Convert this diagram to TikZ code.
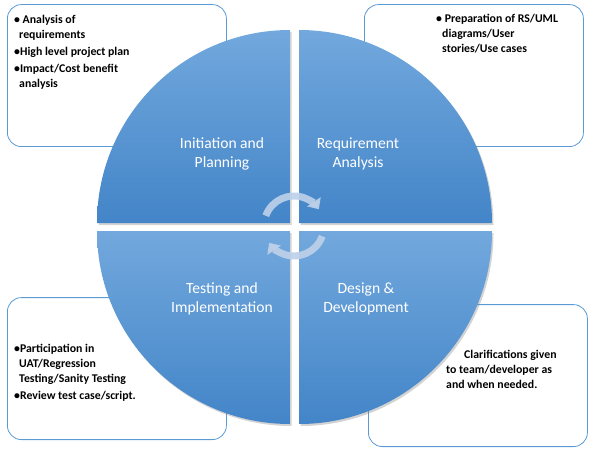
\documentclass[tikz,border=0pt]{standalone}
\usepackage{fontspec}
\setmainfont{Carlito}
\usetikzlibrary{positioning,shadows,arrows.meta}
\definecolor{quadtop}{HTML}{72A8DD}
\definecolor{quadbot}{HTML}{4385C8}
\definecolor{boxline}{HTML}{5B9BD5}
\definecolor{arrowfill}{HTML}{BDD0E9}

\begin{document}
\begin{tikzpicture}[x=1pt,y=1pt,
  every node/.style={align=left},
  infobox/.style={draw=boxline,line width=0.8pt,rounded corners=14pt,minimum width=219pt,minimum height=142pt,anchor=south west,inner sep=0pt},
  infotext/.style={font=\bfseries\fontsize{11.8}{15}\selectfont,inner sep=0pt,anchor=north west},
  quadrant/.style={top color=quadtop,bottom color=quadbot,drop shadow={opacity=0.35,shadow xshift=1.5pt,shadow yshift=-2pt}},
  phase/.style={text=white,font=\fontsize{15.6}{18.5}\selectfont,align=center},
  turnarrow/.style={line width=7pt,draw=arrowfill,-{Triangle[width=16pt,length=9pt]},opacity=0.92}]

  \useasboundingbox (0,0) rectangle (593,453);

  % Kaesten
  \node[infobox] (init box) at (7,306) {};
  \node[infobox] (req box) at (364,306) {};
  \node[infobox] (test box) at (7,13) {};
  \node[infobox] (dev box) at (368,6) {};

  \node[infotext,below right=11pt and 7pt of init box.north west] (init text)
    {\textbullet\ Analysis of\\\hspace*{5pt}requirements\\[2pt]\textbullet High level project plan\\[2pt]\textbullet Impact/Cost benefit\\\hspace*{5pt}analysis};
  \node[infotext,below right=10pt and 72pt of req box.north west] (req text)
    {\textbullet\ Preparation of RS/UML\\\hspace*{6pt}diagrams/User\\\hspace*{6pt}stories/Use cases};
  \node[infotext,below right=47pt and 7pt of test box.north west] (test text)
    {\textbullet Participation in\\\hspace*{5pt}UAT/Regression\\\hspace*{5pt}Testing/Sanity Testing\\[2pt]\textbullet Review test case/script.};
  \node[infotext,below right=46pt and 78pt of dev box.north west] (dev text)
    {\hspace*{18pt}Clarifications given\\to team/developer as\\and when needed.};

  % Quadranten
  \path[quadrant] (290,230) -- ++(-193,0) arc[start angle=180,end angle=90,radius=193] -- cycle;
  \path[quadrant] (299,230) -- ++(0,193) arc[start angle=90,end angle=0,radius=193] -- cycle;
  \path[quadrant] (290,222) -- ++(0,-193) arc[start angle=270,end angle=180,radius=193] -- cycle;
  \path[quadrant] (299,222) -- ++(193,0) arc[start angle=0,end angle=-90,radius=193] -- cycle;

  \node[phase] (init) at (222,299) {Initiation and\\Planning};
  \node[phase] (req) at (358,299) {Requirement\\Analysis};
  \node[phase] (test) at (222,154) {Testing and\\Implementation};
  \node[phase] (dev) at (366,154) {Design \&\\Development};

  % Kreislauf
  \coordinate (hub) at (294,227);
  \draw[turnarrow] (hub) ++(160:30) arc[start angle=160,end angle=34,radius=30];
  \draw[turnarrow] (hub) ++(-20:30) arc[start angle=-20,end angle=-146,radius=30];

\end{tikzpicture}
\end{document}
